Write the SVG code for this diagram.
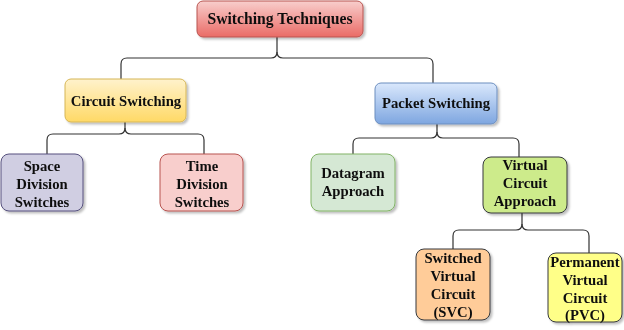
<svg xmlns="http://www.w3.org/2000/svg" width="624" height="330" viewBox="0 0 624 330">
<style>
.t{font-family:"Liberation Serif","Times New Roman",serif;font-weight:bold;font-size:14.7px;fill:#111;text-anchor:middle}
.big{font-size:15.7px}
.c{fill:none;stroke:#333;stroke-width:1.2}
.n{filter:url(#sh)}
</style>
<defs>
<filter id="sh" x="-10%" y="-10%" width="130%" height="140%"><feDropShadow dx="2" dy="2" stdDeviation="1.2" flood-color="#000" flood-opacity="0.25"/></filter>
<linearGradient id="gr" x1="0" y1="0" x2="0" y2="1"><stop offset="0" stop-color="#f8cecc"/><stop offset="1" stop-color="#ea6b66"/></linearGradient>
<linearGradient id="gy" x1="0" y1="0" x2="0" y2="1"><stop offset="0" stop-color="#fff2cc"/><stop offset="1" stop-color="#ffd966"/></linearGradient>
<linearGradient id="gb" x1="0" y1="0" x2="0" y2="1"><stop offset="0" stop-color="#dae8fc"/><stop offset="1" stop-color="#7ea6e0"/></linearGradient>
</defs>
<g id="connectors">
<path class="c" d="M277,37 V52 Q277,58 271,58 H127 Q121,58 121,64 V79"/>
<path class="c" d="M277,52 Q277,58 283,58 H427 Q433,58 433,64 V83"/>
<path class="c" d="M125,122 V128 Q125,134 119,134 H53 Q47,134 47,140 V154"/>
<path class="c" d="M125,128 Q125,134 131,134 H198 Q204,134 204,140 V154"/>
<path class="c" d="M437,124 V132 Q437,138 431,138 H359 Q353,138 353,144 V154"/>
<path class="c" d="M437,132 Q437,138 443,138 H513 Q519,138 519,144 V157"/>
<path class="c" d="M522,213 V224 Q522,230 516,230 H459 Q453,230 453,236 V249"/>
<path class="c" d="M522,224 Q522,230 528,230 H583 Q589,230 589,236 V253"/>
</g>
<g id="switching-techniques" class="n"><rect x="197" y="1" width="166" height="36" rx="6" fill="url(#gr)" stroke="#b85450"/><text class="t big" x="280" y="24">Switching Techniques</text></g>
<g id="circuit-switching" class="n"><rect x="65" y="79" width="121" height="43" rx="6" fill="url(#gy)" stroke="#d6b656"/><text class="t" x="126" y="106">Circuit Switching</text></g>
<g id="packet-switching" class="n"><rect x="375" y="83" width="122" height="41" rx="6" fill="url(#gb)" stroke="#6c8ebf"/><text class="t" x="436" y="108">Packet Switching</text></g>
<g id="space-division" class="n"><rect x="1" y="154" width="82" height="57" rx="8" fill="#d0cee2" stroke="#56517e"/><text class="t" x="42" y="171">Space</text><text class="t" x="42" y="189">Division</text><text class="t" x="42" y="207">Switches</text></g>
<g id="time-division" class="n"><rect x="160" y="154" width="83" height="57" rx="8" fill="#f8cecc" stroke="#b85450"/><text class="t" x="202" y="171">Time</text><text class="t" x="202" y="189">Division</text><text class="t" x="202" y="207">Switches</text></g>
<g id="datagram" class="n"><rect x="311" y="154" width="84" height="57" rx="8" fill="#d5e8d4" stroke="#82b366"/><text class="t" x="353" y="178">Datagram</text><text class="t" x="353" y="196">Approach</text></g>
<g id="virtual-circuit" class="n"><rect x="483" y="157" width="84" height="56" rx="8" fill="#cdeb8b" stroke="#36393d"/><text class="t" x="525" y="170">Virtual</text><text class="t" x="525" y="188">Circuit</text><text class="t" x="525" y="206">Approach</text></g>
<g id="svc" class="n"><rect x="416" y="249" width="74" height="71" rx="8" fill="#ffcc99" stroke="#36393d"/><text class="t" x="453" y="263">Switched</text><text class="t" x="453" y="281">Virtual</text><text class="t" x="453" y="299">Circuit</text><text class="t" x="453" y="317">(SVC)</text></g>
<g id="pvc" class="n"><rect x="548" y="253" width="74" height="69" rx="8" fill="#ffff88" stroke="#36393d"/><text class="t" x="585" y="267">Permanent</text><text class="t" x="585" y="285">Virtual</text><text class="t" x="585" y="303">Circuit</text><text class="t" x="585" y="320">(PVC)</text></g>
</svg>
